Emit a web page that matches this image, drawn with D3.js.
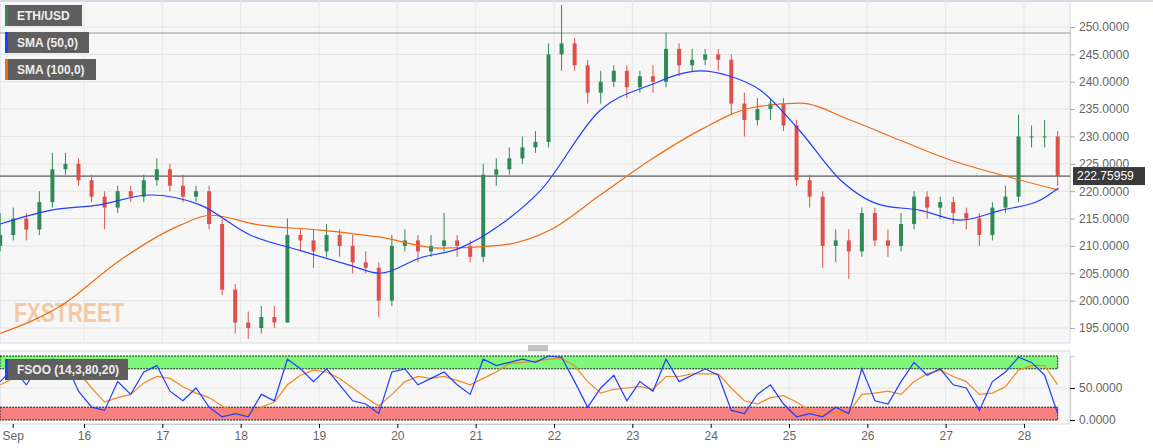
<!DOCTYPE html><html><head><meta charset="utf-8">
<script src="https://cdn.jsdelivr.net/npm/d3@7"></script>
<style>body{margin:0;background:#fff;font-family:"Liberation Sans",Arial,sans-serif}</style></head><body>
<svg id="c" width="1153" height="448"></svg>
<script>
const t0 = 14.93, step = 1/6;
const closes = [212,215,213,218,224,225,222,219,217,220,219,222,224,221,219,220,214,202,196,195,197,196,212,211,209,212,210,207,206,200,210,211,209,210,211,210,208,223,224,226,228,229,245,247,243,238,240,242,239,241,240,246,243,244,245,244,236,233,235,236,232,222,219,210,211,209,216,211,210,214,219,217,218,216,215,212,217,219,230,230,230,222.76];
const opens0 = 210;
const highs = [216,217,216,220,227,227,226,223,220,221,221,223,226,225,223,221,221,215,203,198,199,199,215,213,213,214,213,212,209,207,212,213,212,212,216,212,211,225,226,228,230,231,247,254,248,244,242,243,243,242,243,249,247,246,246,246,245,238,237,237,237,233,223,220,213,213,217,217,213,216,220,220,219,219,217,216,218,221,234,232,233,231];
const lows = [209,211,211,212,217,223,221,218,213,216,218,218,221,220,218,218,213,201,194,193,194,195,196,209,206,208,208,205,205,197,199,209,207,208,209,208,207,207,221,223,225,227,228,242,242,236,236,239,237,238,238,239,241,242,243,242,234,230,232,233,231,221,217,206,207,204,208,210,208,209,213,215,215,214,213,210,211,216,218,228,228,221];
const sma50 = [[14.93,214],[15.57,216.5],[16.2,217.5],[16.84,219.3],[17.48,217.5],[18.12,212],[18.75,209.2],[19.39,206.5],[19.78,205],[20.29,207.8],[20.8,209.6],[21.31,213.8],[21.82,220],[22.59,234.8],[23.23,239.4],[23.87,242],[24.25,241],[24.63,238.5],[25.14,231],[25.66,222],[26.17,217.5],[26.68,216.5],[27.19,214.7],[27.7,216.5],[28.21,218.4],[28.44,220.6]];
const sma100 = [[14.93,194],[15.7,199],[16.46,207.4],[17.23,213.8],[17.61,215.6],[18.25,213.8],[19.02,212.9],[19.78,211.6],[20.55,209.6],[21.31,210.1],[21.95,212.9],[22.59,219.3],[23.23,225.7],[23.87,231.2],[24.51,235.2],[25.14,236.1],[25.78,233],[26.42,229.3],[27.06,225.7],[27.7,223],[28.44,220.2]];
const stochK = [60,80,55,85,95,90,45,20,15,60,40,75,85,45,30,50,20,5,10,5,40,30,95,80,60,80,55,30,25,10,75,80,55,65,75,55,40,95,85,90,95,90,100,98,60,20,50,70,30,60,45,95,60,70,80,70,15,10,40,55,25,5,10,5,20,10,80,30,25,60,90,70,80,55,50,15,60,75,98,90,70,10];
const stochD = [55,65,65,72,80,88,75,50,28,35,40,58,68,65,52,42,35,22,12,8,20,28,55,70,78,75,65,50,35,22,40,60,68,65,68,62,55,65,75,88,90,92,95,96,85,60,42,48,50,52,48,68,68,72,72,72,50,30,25,35,38,28,15,8,12,12,40,42,45,40,60,72,78,68,60,40,42,52,78,85,85,55];
const priceTicks = [250,245,240,235,230,225,220,215,210,205,200,195];
const dayTicks = [16,17,18,19,20,21,22,23,24,25,26,27,28];
const lastPrice = 222.75959, refLine = 248.9;

const svg = d3.select("#c");
const W = 1070;
const x = d3.scaleLinear().domain([16,28]).range([84,1024]);
const y = d3.scaleLinear().domain([195,250]).range([328,27]);
const y2 = d3.scaleLinear().domain([0,100]).range([420,356]);
svg.append("rect").attr("x",0).attr("y",0).attr("width",W).attr("height",343).attr("fill","#f7f7f7").attr("stroke","#d8dbe6");
svg.append("rect").attr("x",0).attr("y",351).attr("width",W).attr("height",73).attr("fill","#f7f7f7").attr("stroke","#d8dbe6");
svg.append("rect").attr("x",0).attr("y",0).attr("width",1153).attr("height",2).attr("fill","#d8dbe6");
svg.append("g").selectAll("line").data(priceTicks).join("line").attr("x1",0).attr("x2",W).attr("y1",d=>y(d)).attr("y2",d=>y(d)).attr("stroke","#e3e3e3");
svg.append("g").selectAll("line").data(dayTicks).join("line").attr("x1",d=>x(d)).attr("x2",d=>x(d)).attr("y1",0).attr("y2",343).attr("stroke","#e8e8e8");
svg.append("g").selectAll("line").data(dayTicks).join("line").attr("x1",d=>x(d)).attr("x2",d=>x(d)).attr("y1",351).attr("y2",424).attr("stroke","#e8e8e8");
svg.append("line").attr("x1",0).attr("x2",W).attr("y1",y2(50)).attr("y2",y2(50)).attr("stroke","#e3e3e3");
svg.append("text").attr("x",14).attr("y",322).attr("font-size",27).attr("font-weight","bold").attr("fill","#f3c9a6").attr("textLength",110).attr("lengthAdjust","spacingAndGlyphs").text("FXSTREET");
const pa = svg.append("g").attr("transform",`translate(${W},0)`).call(d3.axisRight(y).tickValues(priceTicks).tickFormat(d3.format(".4f")).tickSize(5));
pa.select(".domain").attr("stroke","#ccc");
pa.selectAll("text").attr("font-size",12).attr("fill","#666").attr("x",9);
pa.selectAll(".tick line").attr("stroke","#aaa");
const sa = svg.append("g").attr("transform",`translate(${W},0)`).call(d3.axisRight(y2).tickValues([0,50]).tickFormat(d3.format(".4f")).tickSize(5));
sa.select(".domain").attr("stroke","#ccc");
sa.selectAll("text").attr("font-size",12).attr("fill","#666").attr("x",9);
const xa = svg.append("g").attr("transform","translate(0,424)").call(d3.axisBottom(x).tickValues([15.09].concat(dayTicks)).tickFormat(d=>d<16?"Sep":d).tickSize(4));
xa.select(".domain").attr("stroke","#ccc");
xa.selectAll("text").attr("font-size",12).attr("fill","#666");
svg.append("line").attr("x1",0).attr("x2",W).attr("y1",y(refLine)).attr("y2",y(refLine)).attr("stroke","#999");
svg.append("line").attr("x1",0).attr("x2",W).attr("y1",y(lastPrice)).attr("y2",y(lastPrice)).attr("stroke","#333");
const candles = closes.map((c,i)=>({t:t0+i*step,o:i?closes[i-1]:opens0,c,h:highs[i],l:lows[i]}));
const cw = 4;
const cg = svg.append("g");
cg.selectAll("line").data(candles).join("line").attr("x1",d=>x(d.t)).attr("x2",d=>x(d.t)).attr("y1",d=>y(d.h)).attr("y2",d=>y(d.l)).attr("stroke",d=>d.c>=d.o?"#2e8b57":"#e0504a");
cg.selectAll("rect").data(candles).join("rect").attr("x",d=>x(d.t)-cw/2).attr("width",cw).attr("y",d=>y(Math.max(d.o,d.c))).attr("height",d=>Math.max(1,Math.abs(y(d.o)-y(d.c)))).attr("fill",d=>d.c>=d.o?"#2e8b57":"#e0504a");
const ln = d3.line().x(d=>x(d[0])).y(d=>y(d[1])).curve(d3.curveMonotoneX);
svg.append("path").attr("d",ln(sma100)).attr("fill","none").attr("stroke","#f26b0f").attr("stroke-width",1.2);
svg.append("path").attr("d",ln(sma50)).attr("fill","none").attr("stroke","#1f3fff").attr("stroke-width",1.2);
svg.append("rect").attr("x",W+3).attr("y",y(lastPrice)-9).attr("width",72).attr("height",18).attr("fill","#3a3a3a");
svg.append("text").attr("x",W+7).attr("y",y(lastPrice)+4).attr("font-size",12).attr("fill","#fff").text("222.75959");
const xe = x(t0+81*step);
svg.append("rect").attr("x",0).attr("y",y2(100)).attr("width",xe).attr("height",y2(80)-y2(100)).attr("fill","#7ef77a").attr("stroke","#222").attr("stroke-dasharray","2,1");
svg.append("rect").attr("x",0).attr("y",y2(20)).attr("width",xe).attr("height",y2(0)-y2(20)).attr("fill","#f98080").attr("stroke","#222").attr("stroke-dasharray","2,1");
const ls = d3.line().x((d,i)=>x(t0+i*step)).y(d=>y2(d));
svg.append("path").attr("d",ls(stochD)).attr("fill","none").attr("stroke","#f5891f").attr("stroke-width",1.2);
svg.append("path").attr("d",ls(stochK)).attr("fill","none").attr("stroke","#1f3fff").attr("stroke-width",1.2);
[346,348,350].forEach(v=>svg.append("line").attr("x1",528).attr("x2",548).attr("y1",v).attr("y2",v).attr("stroke","#888"));
const leg = [["ETH/USD","#2e8b57",5,77],["SMA (50,0)","#1f3fff",32,84],["SMA (100,0)","#f26b0f",59,91]];
leg.forEach(([t,c,yy,w])=>{
 svg.append("rect").attr("x",5).attr("y",yy).attr("width",w).attr("height",21).attr("fill","#5f5f5f");
 svg.append("rect").attr("x",5).attr("y",yy).attr("width",3).attr("height",21).attr("fill",c);
 svg.append("text").attr("x",17).attr("y",yy+15).attr("font-size",12).attr("font-weight","bold").attr("fill","#eee").text(t);
});
svg.append("rect").attr("x",5).attr("y",359).attr("width",123).attr("height",21).attr("fill","#5f5f5f");
svg.append("rect").attr("x",5).attr("y",359).attr("width",3).attr("height",21).attr("fill","#1f3fff");
svg.append("text").attr("x",17).attr("y",374).attr("font-size",12).attr("font-weight","bold").attr("fill","#eee").text("FSOO (14,3,80,20)");
</script></body></html>
